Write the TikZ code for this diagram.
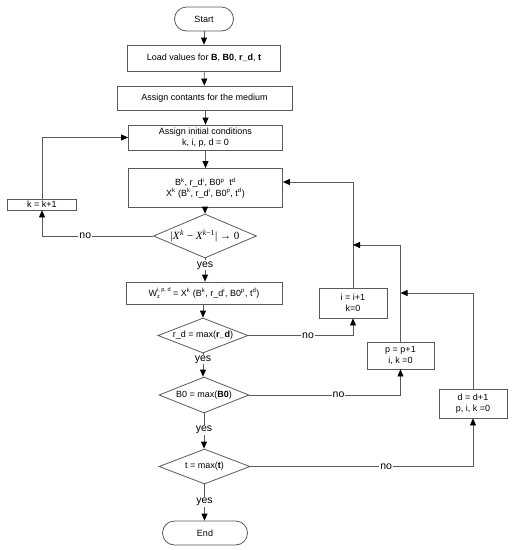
\documentclass[tikz,border=0pt]{standalone}
\usepackage{fontspec}
\setmainfont{Liberation Sans}
\newfontfamily\serifm{Liberation Serif}
\usetikzlibrary{shapes.geometric,arrows.meta}
\definecolor{linegray}{HTML}{5A5A5A}
\begin{document}
\begin{tikzpicture}[x=1pt,y=-1pt,
  every node/.style={font=\fontsize{9}{10.5}\selectfont},
  box/.style={draw=linegray, line width=0.8pt, fill=white, inner sep=0pt, align=center},
  term/.style={box, rounded corners=12pt},
  dec/.style={diamond, draw=linegray, line width=0.8pt, fill=white, inner sep=0pt, aspect=2.5},
  lbl/.style={fill=white, inner sep=1pt, font=\fontsize{10.5}{12}\selectfont},
  arr/.style={draw=linegray, line width=0.8pt, -{Triangle[length=7pt,width=6pt,color=black]}},
  ln/.style={draw=linegray, line width=0.8pt}
]
\useasboundingbox (0,0) rectangle (514,550);

\node[term, minimum width=59pt, minimum height=24pt] (start) at (204,19) {Start};
\node[box, minimum width=153pt, minimum height=26pt] (load) at (204,58) {Load values for \textbf{B}, \textbf{B0}, \textbf{r\_d}, \textbf{t}};
\node[box, minimum width=175pt, minimum height=24pt] (assign) at (204.5,98) {Assign contants for the medium};
\node[box, minimum width=154pt, minimum height=25pt] (init) at (205.5,137.5) {Assign initial conditions\\k, i, p, d = 0};
\node[box, minimum width=154pt, minimum height=39pt] (bk) at (205.5,188) {B\textsuperscript{k}, r\_d\textsuperscript{i}, B0\textsuperscript{p}\ \ t\textsuperscript{d}\\X\textsuperscript{k} (B\textsuperscript{k}, r\_d\textsuperscript{i}, B0\textsuperscript{p}, t\textsuperscript{d})};
\node[dec, minimum width=103pt, minimum height=44pt] (d1) at (205,236) {\serifm\fontsize{11}{12}\selectfont |\textit{X}\textsuperscript{\textit{k}} − \textit{X}\textsuperscript{\textit{k}−1}| → 0};
\node[box, minimum width=69pt, minimum height=11pt] (kbox) at (42,204.5) {k = k+1};
\node[box, minimum width=156pt, minimum height=22pt] (wbox) at (204,293) {W\raisebox{-1.6pt}{\fontsize{5.5}{5.2}\selectfont\shortstack[l]{i, p, d\\z}} = X\textsuperscript{k} (B\textsuperscript{k}, r\_d\textsuperscript{i}, B0\textsuperscript{p}, t\textsuperscript{d})};
\node[dec, minimum width=90pt, minimum height=35pt] (d2) at (203,335.5) {r\_d = max(\textbf{r\_d})};
\node[box, minimum width=68pt, minimum height=30pt] (ibox) at (353,303) {i = i+1\\k=0};
\node[dec, minimum width=90pt, minimum height=36pt] (d3) at (204,395) {B0 = max(\textbf{B0})};
\node[box, minimum width=67pt, minimum height=27pt] (pbox) at (400.5,355.5) {p = p+1\\i, k =0};
\node[dec, minimum width=91pt, minimum height=35pt] (d4) at (204.5,466.5) {t = max(\textbf{t})};
\node[box, minimum width=68pt, minimum height=29pt] (dbox) at (473,403.5) {d = d+1\\p, i, k =0};
\node[term, minimum width=85pt, minimum height=24pt] (end) at (205,533) {End};

\coordinate (ijoin) at (353,245);
\coordinate (pjoin) at (400.5,293);

% main column
\draw[arr] (start) -- (load);
\draw[arr] (load) -- (assign);
\draw[arr] (assign.south -| init.north) -- (init.north);
\draw[arr] (init) -- (bk);
\draw[arr] (bk.south -| d1.north) -- (d1.north);
\draw[arr] (d1.south) -- node[lbl,pos=0.3]{yes} (wbox.north -| d1.south);
\draw[arr] (d2.south) -- node[lbl,pos=0.26]{yes} (d3.north -| d2.south);
\draw[arr] (wbox.south -| d2.north) -- (d2.north);
\draw[arr] (d3.south) -- node[lbl,pos=0.47]{yes} (d4.north -| d3.south);
\draw[arr] (d4.south) -- node[lbl,pos=0.49]{yes} (end.north -| d4.south);

% k loop
\draw[arr] (d1.west) -- node[lbl,pos=0.61]{no} (kbox.south |- d1.west) -- (kbox.south);
\draw[arr] (kbox.north) |- (init.west);

% i loop
\draw[arr] (d2.east) -- node[lbl,pos=0.57]{no} (ibox.south |- d2.east) -- (ibox.south);
\draw[arr] (ibox.north) |- ([yshift=6pt]bk.east);

% p loop
\draw[arr] (d3.east) -- node[lbl,pos=0.59]{no} (pbox.south |- d3.east) -- (pbox.south);
\draw[arr] (pbox.north) |- (ijoin);

% d loop
\draw[arr] (d4.east) -- node[lbl,pos=0.61]{no} (dbox.south |- d4.east) -- (dbox.south);
\draw[arr] (dbox.north) |- (pjoin);
\end{tikzpicture}
\end{document}
